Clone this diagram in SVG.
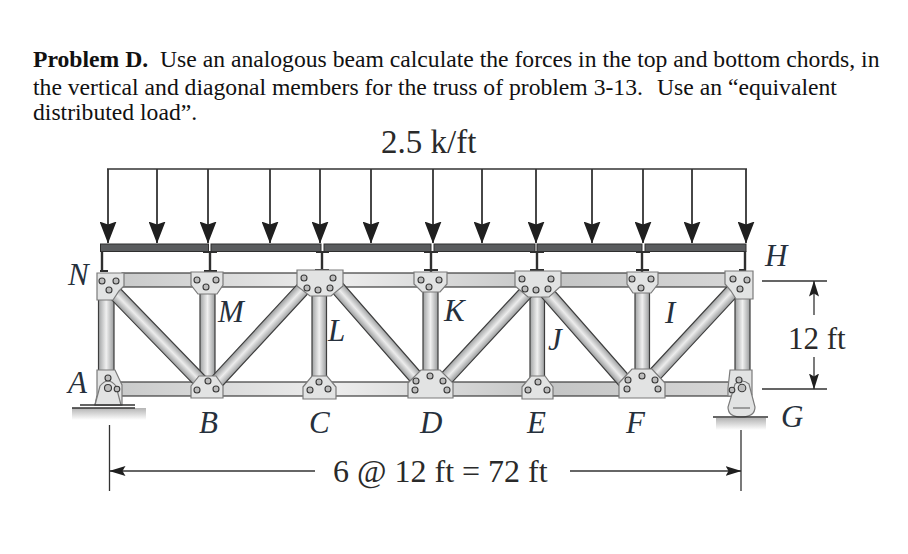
<svg xmlns="http://www.w3.org/2000/svg" width="908" height="554" viewBox="0 0 908 554">
<style>
.t{font-family:"Liberation Serif","Times New Roman",serif;font-size:23.65px;fill:#111}
.b{font-weight:bold}
.d{font-family:"Liberation Serif","Times New Roman",serif;font-size:32px;fill:#2a2a2a}
.l{font-family:"Liberation Serif","Times New Roman",serif;font-size:31px;font-style:italic;fill:#26303c}
.thin{stroke:#333;stroke-width:1.3;fill:none}
.load{stroke:#333;stroke-width:1.6;fill:none}
.arr{stroke:#333;stroke-width:1.8;fill:none;marker-end:url(#ah)}
.gus{fill:#e2e3e3;stroke:#7a7a7a;stroke-width:1.2}
.bolt{fill:#bdbdbd;stroke:#3a3a3a;stroke-width:1.1}
.mem{stroke:#3d3d3d;stroke-width:1.2}
.hang{stroke:#2f2f2f;stroke-width:2.4;fill:none}
.beam{fill:#5a5c5e;stroke:#2e2e2e;stroke-width:1}
</style>
<defs>
<linearGradient id="gv" x1="0" x2="1" y1="0" y2="0"><stop offset="0" stop-color="#a0a2a3"/><stop offset=".5" stop-color="#f0f0f0"/><stop offset="1" stop-color="#9a9c9d"/></linearGradient>
<linearGradient id="gd" x1="0" x2="0" y1="0" y2="1"><stop offset="0" stop-color="#a0a2a3"/><stop offset=".5" stop-color="#ececec"/><stop offset="1" stop-color="#9a9c9d"/></linearGradient>
<linearGradient id="gh" x1="0" x2="1" y1="0" y2="0"><stop offset="0" stop-color="#c9caca"/><stop offset=".35" stop-color="#ededed"/><stop offset=".7" stop-color="#c4c5c5"/><stop offset="1" stop-color="#d6d6d6"/></linearGradient>
<linearGradient id="gs" x1="0" x2="0" y1="0" y2="1"><stop offset="0" stop-color="#b4b4b4"/><stop offset="1" stop-color="#ffffff"/></linearGradient>
<marker id="ah" markerWidth="22" markerHeight="17" refX="21.500" refY="8.500" orient="auto" markerUnits="userSpaceOnUse" viewBox="0 0 22 17"><path d="M0 0L3 8.500L0 17L22 8.500Z" fill="#1f1f1f"/></marker>
<marker id="ad" markerWidth="16" markerHeight="10" refX="15.500" refY="5" orient="auto" markerUnits="userSpaceOnUse" viewBox="0 0 16 10"><path d="M0 0L16 5L0 10L3 5Z" fill="#1f1f1f"/></marker>
</defs>
<rect width="908" height="554" fill="#fff"/>

<g id="caption">
<text class="t" x="33" y="67"><tspan class="b">Problem D.</tspan><tspan x="160">Use an analogous beam calculate the forces in the top and bottom chords, in</tspan></text>
<text class="t" x="33" y="95">the vertical and diagonal members for the truss of problem 3-13.<tspan x="657">Use an “equivalent</tspan></text>
<text class="t" x="33" y="120">distributed load”.</text>
</g>

<g id="load">
<path class="load" d="M107 169H747"/>
<path class="arr" d="M108 169V243"/><path class="arr" d="M157 169V243"/><path class="arr" d="M208 169V243"/><path class="arr" d="M270 169V243"/><path class="arr" d="M320 169V243"/><path class="arr" d="M371 169V243"/><path class="arr" d="M433 169V243"/><path class="arr" d="M482 169V243"/><path class="arr" d="M536 169V243"/><path class="arr" d="M592 169V243"/><path class="arr" d="M643 169V243"/><path class="arr" d="M692 169V243"/><path class="arr" d="M746 169V243"/>
<text class="d" x="381" y="153" style="font-size:33px">2.5 k/ft</text>
</g>

<g id="stringers">
<rect class="beam" x="100.500" y="244" width="108" height="7.500"/>
<rect class="beam" x="211" y="244" width="110" height="7.500"/>
<rect class="beam" x="324" y="244" width="107" height="7.500"/>
<rect class="beam" x="434" y="244" width="101" height="7.500"/>
<rect class="beam" x="537" y="244" width="105" height="7.500"/>
<rect class="beam" x="645" y="244" width="101" height="7.500"/>
<path class="hang" d="M102 251V272M210 251V272M322 251V271M431 251V272M537 251V271M642 251V272M745 251V271"/>
<path stroke="#2f2f2f" stroke-width="2" d="M100 271H108M204 271H217M315 270H329M424 270H438M530 270H544M636 270H649M739 270H746M203 252H217M316 252H329M424 252H438M530 252H544M636 252H650"/>
</g>

<g id="connectors">
<rect class="mem" x="122" y="273" width="610" height="14" fill="url(#gh)"/>
<rect class="mem" x="118" y="382" width="614" height="14" fill="url(#gh)"/>
<rect class="mem" x="98.500" y="295" width="15.500" height="80" fill="url(#gv)"/>
<rect class="mem" x="200" y="290" width="15" height="90" fill="url(#gv)"/>
<rect class="mem" x="312" y="292" width="14.500" height="88" fill="url(#gv)"/>
<rect class="mem" x="423" y="288" width="15" height="88" fill="url(#gv)"/>
<rect class="mem" x="530" y="292" width="14.500" height="88" fill="url(#gv)"/>
<rect class="mem" x="635" y="290" width="14.500" height="84" fill="url(#gv)"/>
<rect class="mem" x="735" y="295" width="15" height="78" fill="url(#gv)"/>
<rect class="mem" x="0" y="-7" width="137" height="14" fill="url(#gd)" transform="translate(110 288) rotate(45.900)"/>
<rect class="mem" x="0" y="-7" width="144" height="14" fill="url(#gd)" transform="translate(310 281) rotate(132.800)"/>
<rect class="mem" x="0" y="-7" width="129" height="14" fill="url(#gd)" transform="translate(335 285) rotate(48.800)"/>
<rect class="mem" x="0" y="-7" width="136" height="14" fill="url(#gd)" transform="translate(440 385) rotate(-47.100)"/>
<rect class="mem" x="0" y="-7" width="130" height="14" fill="url(#gd)" transform="translate(541 286) rotate(48.700)"/>
<rect class="mem" x="0" y="-7" width="135" height="14" fill="url(#gd)" transform="translate(647 383) rotate(-47.100)"/>
</g>

<g id="node-N"><path class="gus" d="M97 273H124V286L119 291L113 300H97Z"/><circle class="bolt" cx="102" cy="281" r="3"/><circle class="bolt" cx="116" cy="281" r="3"/><circle class="bolt" cx="109" cy="290" r="3"/><text class="l" x="68" y="285">N</text></g>
<g id="node-M"><path class="gus" d="M191 272H223V285L217 294H198L191 285Z"/><circle class="bolt" cx="197" cy="280" r="3"/><circle class="bolt" cx="216" cy="280" r="3"/><circle class="bolt" cx="206" cy="287" r="3"/><text class="l" x="218" y="322">M</text></g>
<g id="node-L"><path class="gus" d="M297 270H343V286L331 296H310L297 286Z"/><circle class="bolt" cx="304" cy="278" r="3"/><circle class="bolt" cx="333" cy="278" r="3"/><circle class="bolt" cx="307" cy="288" r="3"/><circle class="bolt" cx="318" cy="290" r="3"/><circle class="bolt" cx="330" cy="288" r="3"/><text class="l" x="328" y="341">L</text></g>
<g id="node-K"><path class="gus" d="M414 272H447V284L440 292H422L414 284Z"/><circle class="bolt" cx="421" cy="280" r="3"/><circle class="bolt" cx="439" cy="280" r="3"/><circle class="bolt" cx="429" cy="287" r="3"/><text class="l" x="444" y="321">K</text></g>
<g id="node-J"><path class="gus" d="M515 271H561V286L549 297H528L515 286Z"/><circle class="bolt" cx="522" cy="279" r="3"/><circle class="bolt" cx="551" cy="279" r="3"/><circle class="bolt" cx="525" cy="289" r="3"/><circle class="bolt" cx="536" cy="290" r="3"/><circle class="bolt" cx="548" cy="289" r="3"/><text class="l" x="548" y="350">J</text></g>
<g id="node-I"><path class="gus" d="M627 272H658V284L651 293H633L627 284Z"/><circle class="bolt" cx="632" cy="279" r="3"/><circle class="bolt" cx="651" cy="279" r="3"/><circle class="bolt" cx="641" cy="288" r="3"/><text class="l" x="665" y="323">I</text></g>
<g id="node-H"><path class="gus" d="M725 271H753V299H736L731 291L725 284Z"/><circle class="bolt" cx="733" cy="279" r="3"/><circle class="bolt" cx="747" cy="280" r="3"/><circle class="bolt" cx="740" cy="289" r="3"/><text class="l" x="765" y="266">H</text></g>

<g id="node-B"><path class="gus" d="M191 386L199 376H216L223 386V398H191Z"/><circle class="bolt" cx="197" cy="390" r="3"/><circle class="bolt" cx="216" cy="389" r="3"/><circle class="bolt" cx="208" cy="381" r="3"/><text class="l" x="199" y="433">B</text></g>
<g id="node-C"><path class="gus" d="M303 387L312 376H327L336 387V399H303Z"/><circle class="bolt" cx="310" cy="390" r="3"/><circle class="bolt" cx="328" cy="389" r="3"/><circle class="bolt" cx="319" cy="382" r="3"/><text class="l" x="309" y="433">C</text></g>
<g id="node-D"><path class="gus" d="M408 383L421 370H440L453 383V398H408Z"/><circle class="bolt" cx="430" cy="376" r="3"/><circle class="bolt" cx="416" cy="381" r="3"/><circle class="bolt" cx="415" cy="390" r="3"/><circle class="bolt" cx="443" cy="381" r="3"/><circle class="bolt" cx="447" cy="390" r="3"/><text class="l" x="420" y="433">D</text></g>
<g id="node-E"><path class="gus" d="M522 387L531 376H545L553 387V399H522Z"/><circle class="bolt" cx="538" cy="382" r="3"/><circle class="bolt" cx="528" cy="390" r="3"/><circle class="bolt" cx="547" cy="390" r="3"/><text class="l" x="527" y="433">E</text></g>
<g id="node-F"><path class="gus" d="M619 383L632 369H652L665 383V398H619Z"/><circle class="bolt" cx="642" cy="376" r="3"/><circle class="bolt" cx="628" cy="380" r="3"/><circle class="bolt" cx="627" cy="389" r="3"/><circle class="bolt" cx="655" cy="380" r="3"/><circle class="bolt" cx="658" cy="389" r="3"/><text class="l" x="626" y="433">F</text></g>

<g id="node-A">
<rect x="72" y="408" width="74" height="12" fill="url(#gs)"/>
<path class="gus" d="M97 370H115L122 385V405H95L97 395Z"/>
<path class="gus" d="M95 405L100 386Q108 376 116 386L121 405Z"/>
<circle class="bolt" cx="108" cy="378" r="3"/><circle class="bolt" cx="108" cy="388" r="3.500"/><circle class="bolt" cx="117" cy="389" r="2.800"/>
<path stroke="#333" stroke-width="1.3" d="M72 408H135M80 405H135" fill="none"/>
<text class="l" x="68" y="393">A</text>
</g>
<g id="node-G">
<rect x="716" y="418" width="50" height="12" fill="url(#gs)"/>
<path class="gus" d="M730 370H752V395L748 396H728V388Z"/>
<path class="gus" d="M735 384Q742 378 749 384L755 407Q755 417 741 417Q728 417 728 407Z"/>
<circle class="bolt" cx="739" cy="380" r="3"/><circle class="bolt" cx="732" cy="390" r="2.800"/><circle class="bolt" cx="742" cy="388" r="3.800"/>
<path stroke="#555" stroke-width="1" d="M733 408H750" fill="none"/>
<path stroke="#333" stroke-width="1.3" d="M713 417H768" fill="none"/>
<text class="l" x="781" y="427">G</text>
</g>

<g id="dimensions">
<path class="thin" d="M762 281H827M762 389H827M109.500 425V491M741 430V491"/>
<path class="thin" d="M814 315V281" marker-end="url(#ad)"/>
<path class="thin" d="M814 357V389" marker-end="url(#ad)"/>
<path class="thin" d="M315 471H110" marker-end="url(#ad)"/>
<path class="thin" d="M570 471H741" marker-end="url(#ad)"/>
<text class="d" x="788" y="349" style="font-size:31px">12 ft</text>
<text class="d" x="333" y="482">6 @ 12 ft = 72 ft</text>
</g>
</svg>
